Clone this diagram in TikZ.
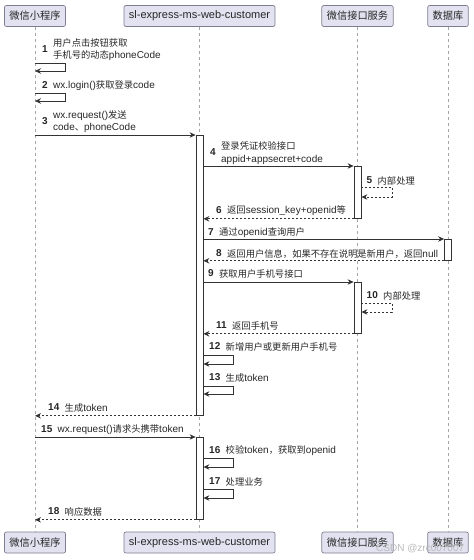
\documentclass[tikz,border=0pt]{standalone}
\usepackage{fontspec}
\setmainfont{Liberation Sans}
\newfontfamily\cjk{Noto Sans CJK SC}[Scale=0.93]
\usetikzlibrary{positioning,arrows.meta}
\definecolor{partfill}{HTML}{E2E2F0}
\definecolor{partdraw}{HTML}{7E7E90}
\definecolor{inkgray}{HTML}{333333}
\newcommand{\ZH}[1]{{\cjk #1}}
\newcommand{\MSG}[4]
{
    \node[num] (#1n) at (#2) {#3};
    \node[txt, right=5pt of #1n] (#1) {#4};
}
\tikzset{
  party/.style={draw=partdraw, fill=partfill, rounded corners=2pt,
    minimum height=21pt, inner xsep=5pt, line width=0.7pt,
    font=\fontsize{11}{13}\selectfont, text=black!85},
  life/.style={draw=gray!70, line width=0.6pt, dash pattern=on 3pt off 3pt},
  actbar/.style={draw=inkgray, fill=white, minimum width=7pt, inner sep=0pt,
    line width=0.8pt},
  msg/.style={draw=inkgray, line width=0.8pt,
    -{Stealth[length=6pt,width=5.5pt,inset=2pt]}},
  ret/.style={msg, dash pattern=on 2pt off 2pt},
  num/.style={anchor=west, inner sep=0pt, text height=7.5pt, text depth=2pt,
    font=\fontsize{10}{12}\selectfont\bfseries, text=black!85},
  txt/.style={inner sep=0pt, align=left, text=black!85,
    font=\fontsize{10}{12.5}\selectfont},
  wmark/.style={inner sep=0pt, text=gray!55, font=\fontsize{10}{12}\selectfont},
}
\begin{document}
\begin{tikzpicture}[x=1pt, y=-1pt]
    \useasboundingbox (0,0) rectangle (474,560);
    % participants, top and bottom
    \node[party] (app)  at (35,16)    {\ZH{微信小程序}};
    \node[party] (svc)  at (199.5,16) {sl-express-ms-web-customer};
    \node[party] (wx)   at (357.5,16) {\ZH{微信接口服务}};
    \node[party] (db)   at (448,16)   {\ZH{数据库}};
    \node[party] (appB) at (35,542.5)    {\ZH{微信小程序}};
    \node[party] (svcB) at (199.5,542.5) {sl-express-ms-web-customer};
    \node[party] (wxB)  at (357.5,542.5) {\ZH{微信接口服务}};
    \node[party] (dbB)  at (448,542.5)   {\ZH{数据库}};
    % lifelines
    \draw[life] (app) -- (appB);
    \draw[life] (svc) -- (svcB);
    \draw[life] (wx) -- (wxB);
    \draw[life] (db) -- (dbB);
    % activations
    \node[actbar, minimum height=280pt, anchor=north] (a1) at (svc.south |- 0,135) {};
    \node[actbar, minimum height=52pt, anchor=north] (a2) at (wx.south |- 0,166) {};
    \node[actbar, minimum height=21pt, anchor=north] (a3) at (db.south |- 0,239) {};
    \node[actbar, minimum height=51pt, anchor=north] (a4) at (wx.south |- 0,282) {};
    \node[actbar, minimum height=82pt, anchor=north] (a5) at (svc.south |- 0,437) {};
    % messages
    \draw[msg] (app.south |- 0,63) -- ++(30,0) -- ++(0,8) -- (app.south |- 0,71);
    \MSG{m1}{42,49.5}{1}{\ZH{用户点击按钮获取}\\\ZH{手机号的动态}phoneCode}
    \draw[msg] (app.south |- 0,93) -- ++(30,0) -- ++(0,8) -- (app.south |- 0,101);
    \MSG{m2}{42,86}{2}{wx.login()\ZH{获取登录}code}
    \draw[msg] (app.south |- 0,135) -- (a1.north west);
    \MSG{m3}{42,121.5}{3}{wx.request()\ZH{发送}\\code\ZH{、}phoneCode}
    \draw[msg] (a1.east |- 0,166) -- (a2.north west);
    \MSG{m4}{210,153}{4}{\ZH{登录凭证校验接口}\\appid+appsecret+code}
    \draw[ret] (a2.east |- 0,187) -- ++(31,0) -- ++(0,10) -- (a2.east |- 0,197);
    \MSG{m5}{366.5,181}{5}{\ZH{内部处理}}
    \draw[ret] (a2.south west) -- (a1.east |- a2.south);
    \MSG{m6}{216,211}{6}{\ZH{返回}session\_key+openid\ZH{等}}
    \draw[msg] (a1.east |- 0,239) -- (a3.north west);
    \MSG{m7}{208,233}{7}{\ZH{通过}openid\ZH{查询用户}}
    \draw[ret] (a3.south west) -- (a1.east |- a3.south);
    \MSG{m8}{216,254}{8}{\ZH{返回用户信息，如果不存在说明是新用户，返回}null}
    \draw[msg] (a1.east |- 0,282) -- (a4.north west);
    \MSG{m9}{208,274}{9}{\ZH{获取用户手机号接口}}
    \draw[ret] (a4.east |- 0,303) -- ++(31,0) -- ++(0,9) -- (a4.east |- 0,312);
    \MSG{m10}{366.5,296}{10}{\ZH{内部处理}}
    \draw[ret] (a4.south west) -- (a1.east |- a4.south);
    \MSG{m11}{216,326}{11}{\ZH{返回手机号}}
    \draw[msg] (a1.east |- 0,355) -- ++(30,0) -- ++(0,9) -- (a1.east |- 0,364);
    \MSG{m12}{209,347}{12}{\ZH{新增用户或更新用户手机号}}
    \draw[msg] (a1.east |- 0,386) -- ++(30,0) -- ++(0,8) -- (a1.east |- 0,394);
    \MSG{m13}{209,378}{13}{\ZH{生成}token}
    \draw[ret] (a1.south west) -- (app.south |- a1.south);
    \MSG{m14}{48,408}{14}{\ZH{生成}token}
    \draw[msg] (app.south |- 0,437) -- (a5.north west);
    \MSG{m15}{41,430}{15}{wx.request()\ZH{请求头携带}token}
    \draw[msg] (a5.east |- 0,458) -- ++(30,0) -- ++(0,9) -- (a5.east |- 0,467);
    \MSG{m16}{209,451}{16}{\ZH{校验}token\ZH{，获取到}openid}
    \draw[msg] (a5.east |- 0,489) -- ++(30,0) -- ++(0,9) -- (a5.east |- 0,498);
    \MSG{m17}{209,482}{17}{\ZH{处理业务}}
    \draw[ret] (a5.south west) -- (app.south |- a5.south);
    \MSG{m18}{48,512}{18}{\ZH{响应数据}}
    % watermark
    \node[wmark, anchor=west] (wm) at (376,549) {CSDN @zrc007007};
\end{tikzpicture}
\end{document}
